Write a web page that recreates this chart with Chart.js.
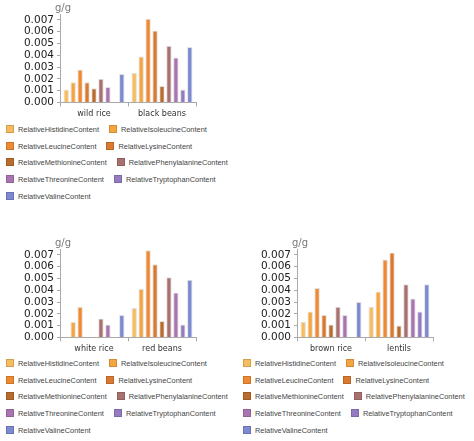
<!DOCTYPE html>
<html><head><meta charset="utf-8">
<script src="https://cdn.jsdelivr.net/npm/chart.js@4"></script>
<style>
body{margin:0;background:#fff;font-family:"DejaVu Sans",sans-serif;}
.box{position:absolute;}
.unit{position:absolute;font-size:10px;color:#777;}
.leg{position:absolute;font-size:7.4px;color:#444;font-family:"Liberation Sans",sans-serif;}
.row{height:16.7px;white-space:nowrap;}
.it{display:inline-block;margin-right:10px;}
.sw{display:inline-block;width:8px;height:8px;margin-right:4px;vertical-align:-1px;border:1px solid rgba(0,0,0,0.15);box-sizing:border-box;}
</style></head><body>
<div class="box" style="left:0;top:0"><div class="unit" style="left:55px;top:2px">g/g</div><canvas id="c1"></canvas></div>
<div class="leg" id="l1" style="left:6px;top:125px"></div>
<div class="box" style="left:0;top:235px"><div class="unit" style="left:55px;top:2px">g/g</div><canvas id="c2"></canvas></div>
<div class="leg" id="l2" style="left:6px;top:359px"></div>
<div class="box" style="left:237px;top:235px"><div class="unit" style="left:55px;top:2px">g/g</div><canvas id="c3"></canvas></div>
<div class="leg" id="l3" style="left:243px;top:359px"></div>
<script>
const seriesNames = ['RelativeHistidineContent','RelativeIsoleucineContent','RelativeLeucineContent','RelativeLysineContent','RelativeMethionineContent','RelativePhenylalanineContent','RelativeThreonineContent','RelativeTryptophanContent','RelativeValineContent'];
const seriesColors = ['#f5bd5f','#f5a540','#ef8a32','#da7a30','#b96c2c','#a8716f','#a975b0','#957cc0','#7d89d0'];
const yTicks = [0,0.001,0.002,0.003,0.004,0.005,0.006,0.007];

const cats1 = ['wild rice','black beans'];
const wildRice   = [0.0011,0.0017,0.0028,0.0017,0.0012,0.0020,0.0013,null,0.0024];
const blackBeans = [0.0025,0.0039,0.0071,0.0061,0.0014,0.0048,0.0038,0.0011,0.0047];
const cats2 = ['white rice','red beans'];
const whiteRice  = [null,0.0013,0.0026,null,null,0.0016,0.0011,null,0.0019];
const redBeans   = [0.0025,0.0041,0.0074,0.0062,0.0014,0.0051,0.0038,0.0011,0.0049];
const cats3 = ['brown rice','lentils'];
const brownRice  = [0.0013,0.0022,0.0042,0.0019,0.0011,0.0026,0.0019,null,0.0030];
const lentils    = [0.0026,0.0039,0.0066,0.0072,0.0010,0.0045,0.0033,0.0022,0.0045];

function makeChart(id, cats, a, b) {
  const cv = document.getElementById(id);
  cv.style.width = '200px'; cv.style.height = '122px';
  new Chart(cv, {
    type: 'bar',
    data: {
      labels: cats,
      datasets: seriesNames.map((n, i) => ({
        label: n, data: [a[i], b[i]],
        backgroundColor: seriesColors[i], borderColor: 'rgba(0,0,0,0.12)', borderWidth: 1
      }))
    },
    options: {
      responsive: false, animation: false,
      layout: { padding: { top: 14, right: 4 } },
      plugins: { legend: { display: false }, tooltip: { enabled: false } },
      datasets: { bar: { categoryPercentage: 0.92, barPercentage: 0.78 } },
      scales: {
        x: { grid: { display: true, drawOnChartArea: false, offset: true, color: '#aaa', tickLength: 4 },
             border: { color: '#aaa' },
             ticks: { color: '#333', font: { size: 8, family: 'DejaVu Sans' } } },
        y: { min: 0, max: 0.0075, afterBuildTicks: ax => { ax.ticks = yTicks.map(v => ({ value: v })); },
             afterFit: ax => { ax.width = 60; },
             grid: { drawOnChartArea: false, color: '#aaa', tickLength: 3 },
             border: { color: '#aaa' },
             ticks: { autoSkip: false, color: '#222', font: { size: 10.5, family: 'DejaVu Sans' }, callback: v => v.toFixed(3) } }
      }
    }
  });
}
function makeLegend(id) {
  const el = document.getElementById(id);
  for (let r = 0; r < seriesNames.length; r += 2) {
    const row = document.createElement('div'); row.className = 'row';
    for (let i = r; i < Math.min(r + 2, seriesNames.length); i++) {
      row.innerHTML += '<span class="it"><span class="sw" style="background:' + seriesColors[i] + '"></span>' + seriesNames[i] + '</span>';
    }
    el.appendChild(row);
  }
}
makeChart('c1', cats1, wildRice, blackBeans);
makeChart('c2', cats2, whiteRice, redBeans);
makeChart('c3', cats3, brownRice, lentils);
makeLegend('l1'); makeLegend('l2'); makeLegend('l3');
</script></body></html>
